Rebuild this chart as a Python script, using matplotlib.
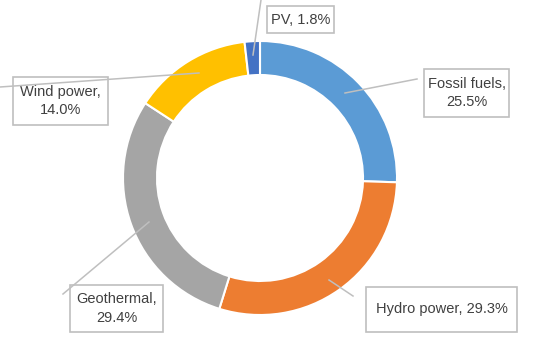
import matplotlib.pyplot as plt
from matplotlib.patches import Rectangle

plt.rcParams['font.family'] = ['Liberation Sans', 'DejaVu Sans']

# data
sources = ["Fossil fuels", "Hydro power", "Geothermal", "Wind power", "PV"]
shares = [25.5, 29.3, 29.4, 14.0, 1.8]
colors = ["#5B9BD5", "#ED7D31", "#A5A5A5", "#FFC000", "#4472C4"]
label_text = ["Fossil fuels,\n25.5%", "Hydro power, 29.3%", "Geothermal,\n29.4%",
              "Wind power,\n14.0%", "PV, 1.8%"]

# label boxes in pixel coords (x0, y0_top, w, h) and leader lines
boxes = [(424, 69, 85, 48), (366, 287, 151, 45), (70, 285, 93, 47),
         (13, 77, 95, 48), (267, 6, 67, 27)]
leaders = [((345, 93), (417, 79)), ((329, 280), (353, 296)), ((149, 222), (63, 294)),
           ((199, 73), (0, 87)), ((253, 55), (261, 0))]

W, H = 550, 340
fig = plt.figure(figsize=(5.5, 3.4), dpi=100)
ax = fig.add_axes([0, 0, 1, 1])
ax.set_xlim(0, W)
ax.set_ylim(0, H)
ax.set_aspect('equal')
ax.axis('off')

ax.pie(shares, colors=colors, startangle=90, counterclock=False,
       center=(260, H - 178), radius=137,
       wedgeprops=dict(width=34, edgecolor='white', linewidth=1.5))
ax.set_xlim(0, W)
ax.set_ylim(0, H)

for (x0, yt, w, h), txt in zip(boxes, label_text):
    ax.add_patch(Rectangle((x0, H - yt - h), w, h, facecolor='white',
                           edgecolor='#BFBFBF', linewidth=1.2, zorder=3))
    ax.text(x0 + w / 2, H - yt - h / 2, txt, ha='center', va='center',
            fontsize=10.5, color='#404040', linespacing=1.4, zorder=4)

for (a, b) in leaders:
    ax.plot([a[0], b[0]], [H - a[1], H - b[1]], color='#BFBFBF', lw=1.1, zorder=5)

fig.savefig("out.png", dpi=100)
